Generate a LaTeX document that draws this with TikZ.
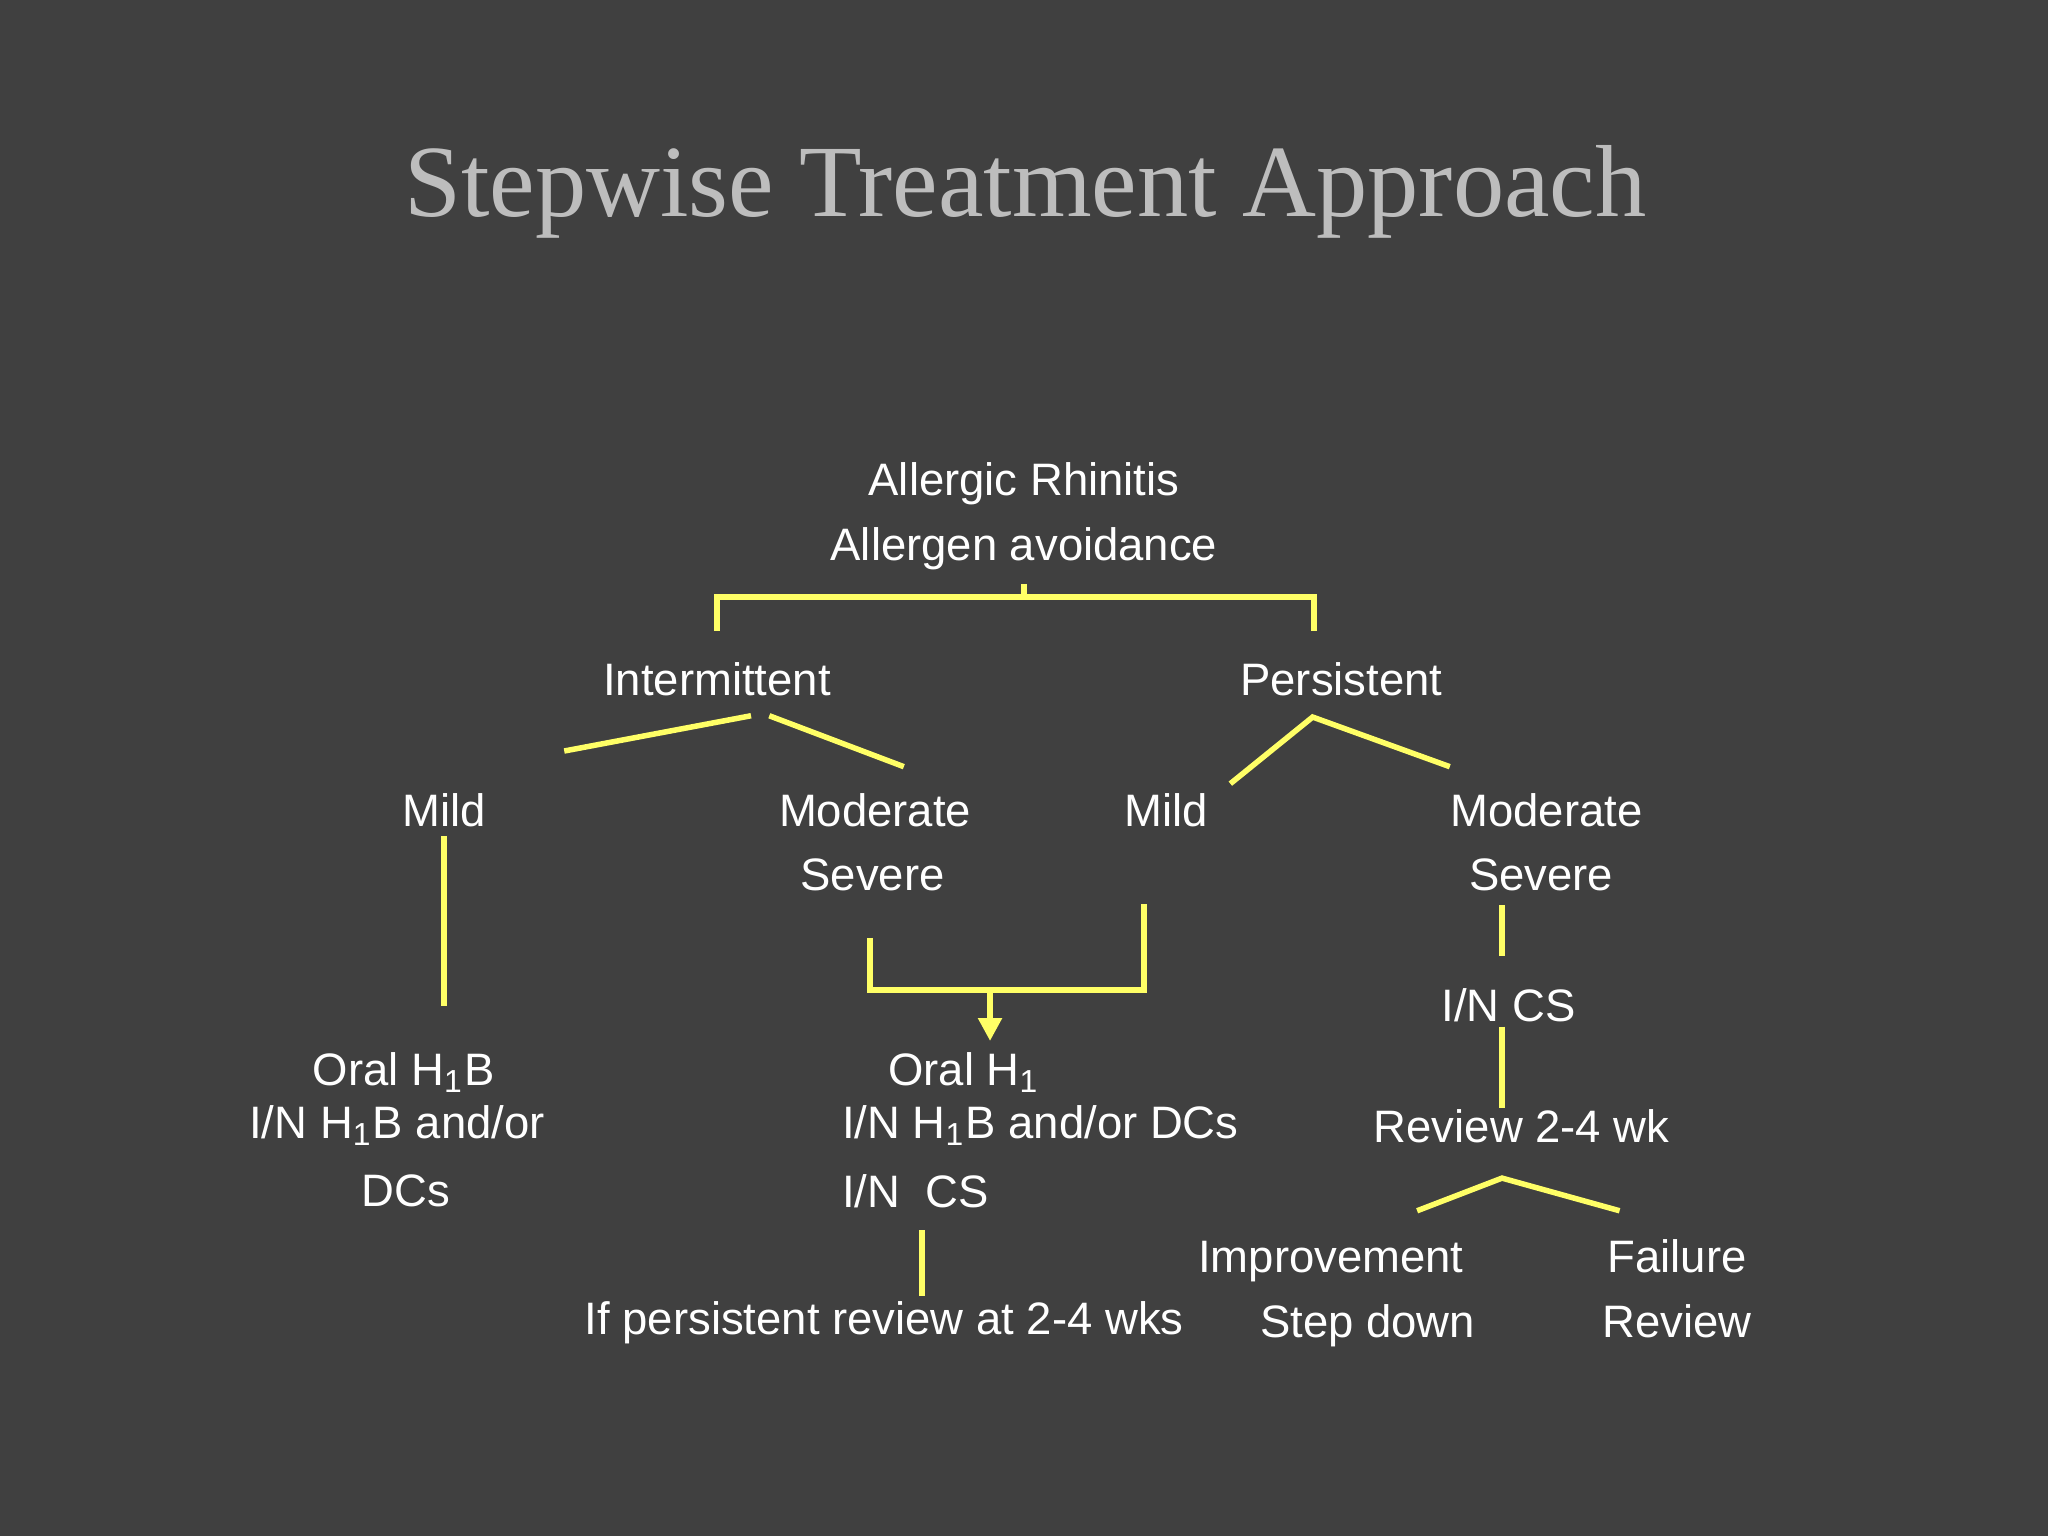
\documentclass[tikz,border=0pt]{standalone}
\usepackage{fontspec}
\setmainfont{Liberation Sans}
\newfontfamily\titlefont{Liberation Serif}
\usetikzlibrary{arrows.meta}
\definecolor{bg}{HTML}{404040}
\definecolor{ttl}{HTML}{BDBDBD}
\definecolor{yel}{HTML}{FFFF66}
\begin{document}
\begin{tikzpicture}[x=0.01cm,y=-0.01cm,
  txt/.style={text=white,font=\fontsize{9.9}{11}\selectfont,inner sep=0pt},
  ln/.style={draw=yel,line width=1.2pt}]
\fill[bg] (0,0) rectangle (1568,1176);
\useasboundingbox (0,0) rectangle (1568,1176);
\node[text=ttl,font=\titlefont\fontsize{22.3}{26}\selectfont] (title) at (785,147) {Stepwise Treatment Approach};
\node[txt] (ar) at (784,370) {Allergic Rhinitis};
\node[txt] (av) at (784,420) {Allergen avoidance};
\node[txt] (int) at (549,520) {Intermittent};
\node[txt] (per) at (1027,520) {Persistent};
\node[txt] (im) at (340,620) {Mild};
\node[txt] (imod) at (670,620) {Moderate};
\node[txt] (isev) at (668,670) {Severe};
\node[txt] (pm) at (893,620) {Mild};
\node[txt] (pmod) at (1184,620) {Moderate};
\node[txt] (psev) at (1180,670) {Severe};
\node[txt] (oh1) at (309,821) {Oral H\textsubscript{1}B};
\node[txt] (oh2) at (304,862) {I/N H\textsubscript{1}B and/or};
\node[txt] (oh3) at (311,912) {DCs};
\node[txt] (mh1) at (738,821) {Oral H\textsubscript{1}};
\node[txt,anchor=west] (mh2) at (644,862) {I/N H\textsubscript{1}B and/or DCs};
\node[txt,anchor=west] (mh3) at (644,912) {I/N\ \ CS};
\node[txt] (ifp) at (677,1013) {If persistent review at 2-4 wks};
\node[txt] (incs) at (1155,770) {I/N CS};
\node[txt] (rev) at (1165,862) {Review 2-4 wk};
\node[txt,anchor=base] (impr) at (1019,974) {Improvement};
\node[txt,anchor=base] (sd) at (1047,1024) {Step down};
\node[txt,anchor=base] (fail) at (1284,974) {Failure};
\node[txt,anchor=base] (rvw) at (1284,1024) {Review};
\coordinate (b1) at (549,483); \coordinate (b2) at (549,457);
\coordinate (b3) at (1006,457); \coordinate (b4) at (1006,483);
\coordinate (bt) at (784,447); \coordinate (bm) at (784,457);
\draw[ln] (b1) -- (b2) -- (b3) -- (b4);
\draw[ln] (bt) -- (bm);
\coordinate (i1) at (432,575); \coordinate (i2) at (575,548);
\coordinate (i3) at (589,548); \coordinate (i4) at (692,587);
\draw[ln] (i1) -- (i2); \draw[ln] (i3) -- (i4);
\coordinate (p1) at (942,600); \coordinate (p2) at (1005,549); \coordinate (p3) at (1110,587);
\draw[ln] (p1) -- (p2) -- (p3);
\coordinate (m1) at (340,640); \coordinate (m2) at (340,770);
\draw[ln] (m1) -- (m2);
\coordinate (c1) at (666,718); \coordinate (c2) at (666,758);
\coordinate (c3) at (876,758); \coordinate (c4) at (876,692);
\coordinate (ca) at (758,758); \coordinate (cb) at (758,797);
\draw[ln] (c1) -- (c2) -- (c3) -- (c4);
\draw[ln,-{Triangle[length=5pt,width=5pt]}] (ca) -- (cb);
\coordinate (s1) at (1150,693); \coordinate (s2) at (1150,732);
\coordinate (s3) at (1150,786); \coordinate (s4) at (1150,848);
\draw[ln] (s1) -- (s2); \draw[ln] (s3) -- (s4);
\coordinate (r1) at (1085,927); \coordinate (r2) at (1150,902); \coordinate (r3) at (1240,927);
\draw[ln] (r1) -- (r2) -- (r3);
\coordinate (f1) at (706,942); \coordinate (f2) at (706,992);
\draw[ln] (f1) -- (f2);
\end{tikzpicture}
\end{document}
